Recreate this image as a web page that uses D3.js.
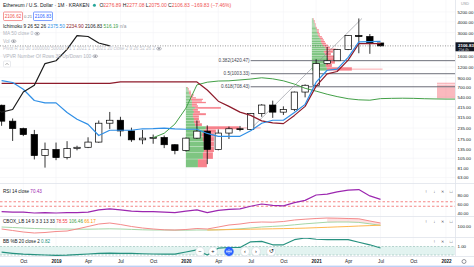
<!DOCTYPE html>
<html>
<head>
<meta charset="utf-8">
<script src="https://cdn.jsdelivr.net/npm/d3@7"></script>
<style>
  body { margin: 0; background: #fff; }
  svg { display: block; font-family: "Liberation Sans", Arial, sans-serif; }
</style>
</head>
<body>
<div id="chart"></div>
<script>
// monthly bars ETH/USD (Kraken), Aug 2018 .. Jul 2021
var months = ["2018-08","2018-09","2018-10","2018-11","2018-12",
  "2019-01","2019-02","2019-03","2019-04","2019-05","2019-06","2019-07","2019-08","2019-09","2019-10","2019-11","2019-12",
  "2020-01","2020-02","2020-03","2020-04","2020-05","2020-06","2020-07","2020-08","2020-09","2020-10","2020-11","2020-12",
  "2021-01","2021-02","2021-03","2021-04","2021-05","2021-06","2021-07"];
var open  = [433, 283, 232, 198, 113, 133, 107, 136, 141, 162, 268, 290, 218, 172, 180, 183, 151, 129, 180, 217, 133, 206, 231, 226, 346, 435, 360, 386, 615, 737, 1314, 1417, 1918, 2773, 2707, 2276.89];
var high  = [439, 304, 238, 224, 160, 160, 166, 147, 184, 288, 362, 318, 238, 224, 198, 193, 153, 183, 288, 253, 227, 245, 249, 348, 445, 489, 420, 623, 755, 1475, 2041, 1945, 2797, 4380, 2891, 2277.08];
var low   = [250, 167, 190, 102, 82, 100, 102, 130, 138, 159, 230, 189, 163, 153, 155, 138, 117, 126, 176, 90, 130, 176, 216, 225, 318, 309, 334, 370, 534, 714, 1282, 1435, 1881, 1730, 1705, 2075];
var close = [283, 232, 198, 113, 133, 107, 136, 141, 162, 268, 290, 218, 172, 180, 183, 151, 129, 180, 217, 133, 206, 231, 226, 346, 435, 360, 386, 615, 737, 1314, 1417, 1918, 2773, 2707, 2275, 2106.83];

// ichimoku
var conversion = [835, 793, 663, 491, 461, 461, 356, 298, 260, 193, 222, 222, 222, 231, 232, 235, 230, 228, 228, 204, 189, 189, 189, 219, 268, 290, 290, 357, 443, 800, 1100, 1133, 1553, 2345, 2357, 2375.5];
var baseLine = [775, 775, 775, 775, 775, 775, 775, 775, 775, 775, 775, 805, 805, 805, 805, 805, 805, 805, 805, 649, 482, 420, 360, 330, 285, 270, 265, 330, 420, 720, 1000, 1065, 1443, 2235, 2235, 2234.9];
var lagMonths = ["2018-07","2018-08","2018-09","2018-10","2018-11","2018-12","2019-01","2019-02","2019-03","2019-04","2019-05","2019-06"];
var lagging = [435, 360, 386, 615, 737, 1314, 1417, 1918, 2773, 2707, 2275, 2106.83];
var leadMonths = ["2019-10","2019-11","2019-12","2020-01","2020-02","2020-03","2020-04","2020-05","2020-06","2020-07","2020-08","2020-09","2020-10","2020-11","2020-12",
  "2021-01","2021-02","2021-03","2021-04","2021-05","2021-06","2021-07","2021-08","2021-09","2021-10","2021-11","2021-12","2022-01","2022-02"];
var leadA = [182, 205, 262, 400, 745, 800, 825, 830, 850, 870, 900, 875, 830, 760, 680, 630, 580, 545, 515, 500, 495, 516.19, 520, 522, 520, 515, 512, 510, 510];

// fixed range volume profiles (30 rows each, bottom to top)
var vp1Start = "2020-01-01", vp1Low = 82, vp1High = 700;
var vp1Up   = [12, 17, 18, 18, 17, 16, 18, 20, 9, 8, 8, 7, 7, 8, 7, 9, 6, 6, 6, 6, 5, 5, 4, 4, 3, 3, 3, 2, 2, 1];
var vp1Down = [9, 10, 10, 10, 11, 12, 12, 33, 7, 6, 5, 6, 13, 6, 5, 26, 6, 5, 14, 10, 12, 5, 3, 4, 2, 2, 2, 1, 1, 1];
var vp2Start = "2020-12-20", vp2Low = 1080, vp2High = 4380;
var vp2Up   = [15, 14, 15, 16, 15, 13, 12, 14, 13, 11, 10, 9, 9, 8, 7, 6, 6, 5, 5, 5, 4, 4, 3, 3, 3, 2, 2, 2, 1, 1];
var vp2Down = [25, 6, 8, 12, 10, 6, 9, 10, 5, 5, 4, 4, 3, 3, 3, 2, 2, 2, 2, 2, 1, 1, 1, 1, 1, 1, 1, 1, 1, 1];
var vpvrLo = [515, 700, 745], vpvrHi = [700, 740, 790], vpvrVol = [18, 18, 18];

// fib retracement
var fibLevels = ["0.382", "0.5", "0.618"];
var fibPrices = [1420.47, 1003.33, 708.43];
var fibFrom = ["2020-07-01", 229.8], fibTo = ["2021-05-10", 4380];

// lower panes
var rsi = [43, 42, 42, 40, 41, 40, 41, 41, 42, 47, 49, 47, 44, 43, 43, 42, 41, 44, 47, 41, 46, 48, 49, 55, 60, 57, 56, 63, 68, 80, 82, 87, 91, 92, 78, 70.43];
var rsiLevels = [65, 55];
var rsiTicks = [80, 60, 40];
var cboxRed   = [70, 55, 40, 30, 35, 45, 50, 70, 95, 120, 130, 115, 95, 80, 70, 62, 60, 65, 75, 70, 90, 110, 120, 135, 140, 138, 145, 160, 168, 175, 180, 178, 175, 172, 150, 130];
var cboxGreen = [90, 85, 80, 75, 72, 70, 70, 68, 68, 70, 72, 70, 66, 62, 60, 60, 58, 58, 60, 60, 62, 66, 72, 80, 90, 96, 102, 112, 122, 130, 138, 140, 140, 136, 122, 106.46];
var orangeMonths = months.slice(19);
var cboxOrange = [60, 62, 64, 66, 68, 70, 72, 74, 76, 79, 83, 87, 91, 95, 100, 104, 108];
var cboxTicks = [100];
var bbPct = [0.33, 0.2, 0.1, 0.05, 0.0, -0.05, -0.02, 0.05, 0.12, 0.2, 0.22, 0.2, 0.18, 0.15, 0.12, 0.1, 0.1, 0.35, 0.6, 0.0, 0.8, 0.88, 0.88, 1.55, 1.6, 1.2, 1.2, 1.8, 2.0, 1.85, 1.8, 1.8, 1.8, 1.5, 1.2, 0.82];
var bbTicks = [1];

var priceTicks = [5200, 4000, 3000, 1600, 1200, 900, 700, 540, 415, 315, 235, 175, 135, 105, 81, 63];
var timeTicks = ["2018-10","2019-01","2019-04","2019-07","2019-10","2020-01","2020-04","2020-07","2020-10","2021-01","2021-04","2021-07","2021-10","2022-01"];
var timeLabels = ["Oct","2019","Apr","Jul","Oct","2020","Apr","Jul","Oct","2021","Apr","Jul","Oct","2022"];

var W = 474, H = 267, plotR = 455, mainB = 183;
var ink = "#131722", muted = "#9598a1", red = "#ef5350", green = "#4caf50", blue = "#2962ff";

var parseM = d3.utcParse("%Y-%m"), parseD = d3.utcParse("%Y-%m-%d");
var x = d3.scaleUtc().domain([parseM("2018-08"), parseM("2022-01")]).range([1.6, 446]);
var y = d3.scaleLog().domain([54.4, 7163]).range([mainB, 0]);
var yRsi = d3.scaleLinear().domain([40, 80]).range([213, 195]);
var yC = d3.scaleLinear().domain([0, 200]).range([236, 216]);
var yB = d3.scaleLinear().domain([0, 1]).range([255, 246.5]);
var vw = d3.scaleLinear().domain([0, 10]).range([0, 10]);

var svg = d3.select("#chart").append("svg").attr("width", W).attr("height", H);
var defs = svg.append("defs");
function clip(id, y0, y1) {
  defs.append("clipPath").attr("id", id).append("rect").attr("x", 0).attr("y", y0).attr("width", plotR).attr("height", y1 - y0);
}
clip("cMain", 0, mainB); clip("cRsi", 184, 216); clip("cCbox", 217, 237); clip("cBb", 238, 256);

// grid
var grid = svg.append("g").attr("stroke", "#f3f4f7").attr("stroke-width", 0.6);
timeTicks.forEach(function (t) {
  grid.append("line").attr("x1", x(parseM(t))).attr("x2", x(parseM(t))).attr("y1", 0).attr("y2", 256);
});
priceTicks.forEach(function (p) {
  grid.append("line").attr("x1", 0).attr("x2", plotR).attr("y1", y(p)).attr("y2", y(p));
});

var main = svg.append("g").attr("clip-path", "url(#cMain)");

// volume profiles
function profile(start, lo, hi, up, down) {
  var rp = d3.scaleLinear().domain([0, up.length]).range([lo, hi]);
  var x0 = x(parseD(start));
  up.forEach(function (u, i) {
    var yb = y(rp(i)), yt = y(rp(i + 1));
    var h = Math.max(0.6, yb - yt - 0.35);
    main.append("rect").attr("x", x0).attr("y", yt).attr("width", vw(u)).attr("height", h).attr("fill", "rgba(76,175,80,0.72)");
    main.append("rect").attr("x", x0 + vw(u)).attr("y", yt).attr("width", vw(down[i])).attr("height", h).attr("fill", "rgba(242,54,69,0.62)");
  });
  var poc = d3.maxIndex(up, function (u, i) { return u + down[i]; });
  return { y: (y(rp(poc)) + y(rp(poc + 1))) / 2, x: x0 + vw(up[poc] + down[poc]) };
}
var p1 = profile(vp1Start, vp1Low, vp1High, vp1Up, vp1Down);
var p2 = profile(vp2Start, vp2Low, vp2High, vp2Up, vp2Down);
main.append("line").attr("x1", p1.x).attr("x2", x(parseM("2020-08")) - 1).attr("y1", p1.y).attr("y2", p1.y)
  .attr("stroke", "rgba(242,54,69,0.55)").attr("stroke-width", 0.8);
main.append("line").attr("x1", p2.x).attr("x2", x(parseM("2021-07")) + 2).attr("y1", p2.y).attr("y2", p2.y)
  .attr("stroke", "rgba(242,54,69,0.55)").attr("stroke-width", 0.8);
vpvrLo.forEach(function (lo, i) {
  main.append("rect").attr("x", plotR - vw(vpvrVol[i])).attr("y", y(vpvrHi[i])).attr("width", vw(vpvrVol[i]))
    .attr("height", y(lo) - y(vpvrHi[i]) - 0.4).attr("fill", "rgba(242,54,69,0.35)");
});

// fib levels
var fx = x(parseM("2020-07"));
fibPrices.forEach(function (p, i) {
  main.append("line").attr("x1", fx).attr("x2", plotR).attr("y1", y(p)).attr("y2", y(p))
    .attr("stroke", "#5d606b").attr("stroke-width", 0.9);
  svg.append("text").attr("x", fx - 1).attr("y", y(p) + 1.6).attr("text-anchor", "end")
    .attr("font-size", 4.6).attr("fill", "#434651").text(fibLevels[i] + "(" + p.toFixed(2) + ")");
});
main.append("line").attr("x1", x(parseD(fibFrom[0]))).attr("y1", y(fibFrom[1]))
  .attr("x2", x(parseD(fibTo[0]))).attr("y2", y(fibTo[1])).attr("stroke", "#8a8d96").attr("stroke-width", 0.6);

// candles
var bw = 6.4;
months.forEach(function (m, i) {
  var cx = x(parseM(m)), up = close[i] >= open[i];
  main.append("line").attr("x1", cx).attr("x2", cx).attr("y1", y(high[i])).attr("y2", y(low[i]))
    .attr("stroke", "#000").attr("stroke-width", 0.8);
  var top = y(Math.max(open[i], close[i])), bot = y(Math.min(open[i], close[i]));
  main.append("rect").attr("x", cx - bw / 2).attr("y", top).attr("width", bw).attr("height", Math.max(0.8, bot - top))
    .attr("fill", up ? "#fff" : "#000").attr("stroke", "#000").attr("stroke-width", 0.7);
});

// ichimoku lines
function series(g, dates, vals, ys, color, w) {
  g.append("path").datum(vals)
    .attr("d", d3.line().x(function (d, i) { return x(parseM(dates[i])); }).y(function (d) { return ys(d); }))
    .attr("fill", "none").attr("stroke", color).attr("stroke-width", w).attr("stroke-linejoin", "round");
}
series(main, leadMonths, leadA, y, "#43a047", 1);
series(main, months, baseLine, y, "#8e1b2b", 1.2);
series(main, months, conversion, y, "#2f8fe6", 1.2);
series(main, lagMonths, lagging, y, "#1b1b1b", 1.2);

// price line + tag
var lastY = y(close[close.length - 1]);
main.append("line").attr("x1", 0).attr("x2", plotR).attr("y1", lastY).attr("y2", lastY)
  .attr("stroke", "#555").attr("stroke-width", 0.6).attr("stroke-dasharray", "1,1.5");

// lower panes
var rsiG = svg.append("g").attr("clip-path", "url(#cRsi)");
rsiLevels.forEach(function (l) {
  rsiG.append("line").attr("x1", 0).attr("x2", plotR).attr("y1", yRsi(l)).attr("y2", yRsi(l))
    .attr("stroke", "#ef5350").attr("stroke-width", 0.7).attr("stroke-dasharray", "2.5,2");
});
series(rsiG, months, rsi, yRsi, "#9c27b0", 1.2);

var cG = svg.append("g").attr("clip-path", "url(#cCbox)");
var shadeFrom = 30;
cG.append("path").datum(d3.range(shadeFrom, months.length))
  .attr("d", d3.area().x(function (i) { return x(parseM(months[i])); })
    .y0(function (i) { return yC(cboxGreen[i]); }).y1(function (i) { return yC(cboxRed[i]); }))
  .attr("fill", "rgba(242,54,69,0.15)");
series(cG, months, cboxGreen, yC, "#a5d6a7", 1);
series(cG, months, cboxRed, yC, "#f48a8a", 1);
series(cG, orangeMonths, cboxOrange, yC, "#ffb74d", 1);

var bG = svg.append("g").attr("clip-path", "url(#cBb)");
bG.append("rect").attr("x", 0).attr("y", yB(1)).attr("width", plotR).attr("height", yB(0) - yB(1)).attr("fill", "#e2f3f0");
[0, 1].forEach(function (v) {
  bG.append("line").attr("x1", 0).attr("x2", plotR).attr("y1", yB(v)).attr("y2", yB(v))
    .attr("stroke", "#8fb8b2").attr("stroke-width", 0.6).attr("stroke-dasharray", "2,1.5");
});
series(bG, months, bbPct, yB, "#26917f", 1.2);

// separators
var sep = svg.append("g").attr("stroke", "#e0e3eb").attr("stroke-width", 0.8);
[183.5, 216.5, 237.5, 256.5].forEach(function (v) {
  sep.append("line").attr("x1", 0).attr("x2", W).attr("y1", v).attr("y2", v);
});
sep.append("line").attr("x1", plotR + 0.5).attr("x2", plotR + 0.5).attr("y1", 0).attr("y2", 256.5);

// axes
var yAxis = d3.axisRight(y).tickValues(priceTicks).tickFormat(d3.format(".2f")).tickSize(0).tickPadding(0);
var ya = svg.append("g").attr("transform", "translate(457.5,0)").call(yAxis);
ya.select(".domain").remove();
ya.selectAll("text").attr("font-size", 4.4).attr("fill", ink).attr("font-family", null);

function sideAxis(scale, ticks) {
  var g = svg.append("g").attr("transform", "translate(457.5,0)")
    .call(d3.axisRight(scale).tickValues(ticks).tickFormat(d3.format(".2f")).tickSize(0).tickPadding(0));
  g.select(".domain").remove();
  g.selectAll("text").attr("font-size", 4.4).attr("fill", ink).attr("font-family", null);
}
sideAxis(yRsi, rsiTicks); sideAxis(yC, cboxTicks); sideAxis(yB, bbTicks);

var xAxis = d3.axisBottom(x).tickValues(timeTicks.map(parseM))
  .tickFormat(function (d, i) { return timeLabels[i]; }).tickSize(0).tickPadding(0);
var xa = svg.append("g").attr("transform", "translate(0,260)").call(xAxis);
xa.select(".domain").remove();
xa.selectAll("text").attr("font-size", 4.6).attr("fill", ink).attr("font-family", null)
  .attr("font-weight", function (d, i) { return /^\d/.test(timeLabels[i]) ? 700 : 400; });

// price tag
svg.append("rect").attr("x", plotR + 0.5).attr("y", lastY - 3.6).attr("width", 18.5).attr("height", 9).attr("fill", "#131722");
svg.append("text").attr("x", 458).attr("y", lastY + 1.2).attr("font-size", 4.4).attr("font-weight", 700).attr("fill", "#fff").text("2106.83");
svg.append("text").attr("x", 458.5).attr("y", lastY + 4.8).attr("font-size", 3.4).attr("fill", "#d1d4dc").text("25d 4h");
svg.append("text").attr("x", 461).attr("y", 5).attr("font-size", 3.8).attr("fill", muted).text("USD");

// legends
function eye(cx, cy) {
  var g = svg.append("g").attr("stroke", "#787b86").attr("stroke-width", 0.5).attr("fill", "none");
  g.append("ellipse").attr("cx", cx).attr("cy", cy).attr("rx", 2.4).attr("ry", 1.4);
  g.append("circle").attr("cx", cx).attr("cy", cy).attr("r", 0.6).attr("fill", "#787b86");
}
function legend(ly, parts, size, eyeAfter) {
  var t = svg.append("text").attr("x", 3).attr("y", ly).attr("font-size", size || 5);
  parts.forEach(function (p) { t.append("tspan").attr("fill", p[1]).text(p[0]); });
  if (eyeAfter) eye(3 + t.node().getComputedTextLength() + 4, ly - 1.6);
  return t;
}
var t1 = legend(7, [["Ethereum / U.S. Dollar \u00b7 1M \u00b7 KRAKEN", ink]]);
var dotX = 3 + t1.node().getComputedTextLength() + 5;
svg.append("circle").attr("cx", dotX).attr("cy", 5.3).attr("r", 1.5).attr("fill", "#26a69a");
var ohlc = svg.append("text").attr("x", dotX + 5).attr("y", 7).attr("font-size", 5);
[["O", ink], ["2276.89", red], [" H", ink], ["2277.08", red], [" L", ink], ["2075.00", red], [" C", ink], ["2106.83", red], [" \u2212169.83 (\u22127.46%)", red]]
  .forEach(function (p) { ohlc.append("tspan").attr("fill", p[1]).text(p[0]); });

svg.append("rect").attr("x", 3.5).attr("y", 12).attr("width", 19).attr("height", 8.5).attr("rx", 1).attr("fill", "#fff").attr("stroke", red).attr("stroke-width", 0.6);
svg.append("text").attr("x", 13).attr("y", 17.8).attr("text-anchor", "middle").attr("font-size", 4.6).attr("fill", red).text("2106.62");
svg.append("text").attr("x", 28).attr("y", 17.8).attr("text-anchor", "middle").attr("font-size", 4.2).attr("fill", "#787b86").text("0.21");
svg.append("rect").attr("x", 33.5).attr("y", 12).attr("width", 19).attr("height", 8.5).attr("rx", 1).attr("fill", "#fff").attr("stroke", blue).attr("stroke-width", 0.6);
svg.append("text").attr("x", 43).attr("y", 17.8).attr("text-anchor", "middle").attr("font-size", 4.6).attr("fill", blue).text("2106.83");

legend(27.8, [["Ichimoku 9 26 52 26  ", ink], ["2375.50 ", "#2f8fe6"], ["2234.90 ", "#8e1b2b"], ["2106.83 ", ink], ["516.19 ", "#43a047"], ["n/a", muted]], 4.8);
legend(35.3, [["MA 50 close 0", "#b2b5be"]], 4.8, true);
legend(42.8, [["Vol", "#b2b5be"]], 4.8, true);
legend(50.3, [["Pivot R 10 30 1000000 50000 0 1 1 2021 1 1 2021 20 close 2 9 26 52 26 2", "#c3c5cc"]], 4.6, true);
legend(57.8, [["VPVR Number Of Rows 30 Up/Down 100", "#b2b5be"]], 4.8, true);
svg.append("rect").attr("x", 3.5).attr("y", 61).attr("width", 7).attr("height", 6).attr("rx", 1).attr("fill", "#fff").attr("stroke", "#d1d4dc").attr("stroke-width", 0.5);
svg.append("path").attr("d", "M5.5,64.8 L7,63.3 L8.5,64.8").attr("fill", "none").attr("stroke", "#555").attr("stroke-width", 0.5);

legend(192.5, [["RSI 14 close ", ink], ["70.43", "#9c27b0"]], 4.6);
legend(222.5, [["CBOX_LB 14 9 3 3 13 33  ", ink], ["78.55 ", "#f23645"], ["106.46 ", "#43a047"], ["66.17", "#ff9800"]], 4.6);
legend(242.5, [["BB %B 20 close 2 ", ink], ["0.82", "#26917f"]], 4.6);

// pane buttons
function icons(iy, glyphs) {
  glyphs.forEach(function (g, i) {
    svg.append("text").attr("x", 451 - (glyphs.length - 1 - i) * 8.3).attr("y", iy).attr("text-anchor", "middle")
      .attr("font-size", 4.4).attr("fill", "#50535e").text(g);
  });
}
icons(192.5, ["\u2191", "\u2193", "\u2715", "\u25a1"]);
icons(222.5, ["\u2191", "\u2193", "\u2715", "\u25a1"]);
icons(242.5, ["\u2191", "\u2715", "\u25a1"]);

// navigation overlay
var nav = [["\u2212", 200], ["+", 213], ["", 229], ["\u2039", 245], ["\u203a", 256], ["\u21ba", 271]];
nav.forEach(function (n, i) {
  var isHome = i === 2;
  svg.append("circle").attr("cx", n[1]).attr("cy", 251.5).attr("r", 4.4)
    .attr("fill", isHome ? "#2962ff" : "#fff").attr("stroke", isHome ? "#2962ff" : "#d1d4dc").attr("stroke-width", 0.5);
  svg.append("text").attr("x", n[1]).attr("y", 253.4).attr("text-anchor", "middle").attr("font-size", 5.6)
    .attr("fill", "#131722").text(n[0]);
});
svg.append("path").attr("d", "M226.6,251.5 h4.8 M229,249.1 v4.8 M227.3,250 l-0.8,1.5 0.8,1.5 M230.7,250 l0.8,1.5 -0.8,1.5")
  .attr("stroke", "#fff").attr("stroke-width", 0.6).attr("fill", "none");

// gear + bottom strip
svg.append("circle").attr("cx", 464).attr("cy", 261.5).attr("r", 2).attr("fill", "none").attr("stroke", "#50535e").attr("stroke-width", 0.6);
svg.append("rect").attr("x", 0).attr("y", 265.6).attr("width", W).attr("height", 1.4).attr("fill", "#bcd0f5");
</script>
</body>
</html>
